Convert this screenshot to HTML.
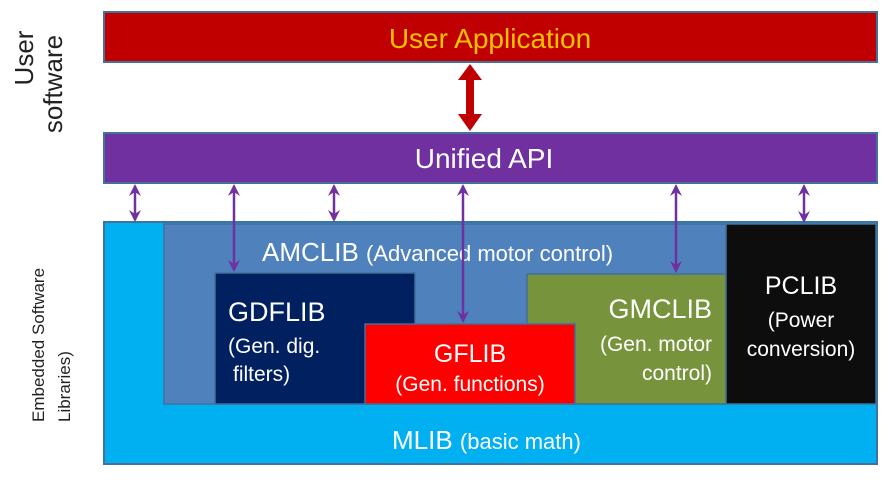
<!DOCTYPE html>
<html><head><style>body{margin:0;background:#fff}svg{display:block}text{font-family:"Liberation Sans",sans-serif}</style></head><body>
<svg width="896" height="501" viewBox="0 0 896 501" xmlns="http://www.w3.org/2000/svg">
<defs>
<marker id="a" markerWidth="14" markerHeight="14" refX="10" refY="7" orient="auto-start-reverse" markerUnits="userSpaceOnUse"><path d="M0,1 L12,7 L0,13 L4,7 Z" fill="#7030a0"/></marker>
</defs>
<text transform="translate(33,58) rotate(-90)" font-size="26" text-anchor="middle" fill="#222">User</text>
<text transform="translate(62,84) rotate(-90)" font-size="26" text-anchor="middle" fill="#222">software</text>
<text transform="translate(44,422) rotate(-90)" font-size="17" text-anchor="start" fill="#222">Embedded Software</text>
<text transform="translate(70,422) rotate(-90)" font-size="17" text-anchor="start" fill="#222">Libraries)</text>
<rect x="104" y="12" width="773" height="50" fill="#c00000" stroke="#41719c" stroke-width="2"/>
<text x="490" y="48" font-size="28" fill="#ffc000" text-anchor="middle">User Application</text>
<rect x="104" y="133" width="773" height="50" fill="#7030a0" stroke="#41719c" stroke-width="2"/>
<text x="484" y="168" font-size="28" fill="#fff" text-anchor="middle">Unified API</text>
<rect x="104" y="222" width="773" height="242" fill="#00b0f0" stroke="#41719c" stroke-width="2"/>
<rect x="164" y="224" width="562" height="180" fill="#4f81bd" stroke="#41719c" stroke-width="1.5"/>
<rect x="215" y="273" width="200" height="131" fill="#002060" stroke="#41719c" stroke-width="1.5"/>
<rect x="527" y="274" width="199" height="130" fill="#77933c" stroke="#41719c" stroke-width="1.5"/>
<rect x="365" y="324" width="210" height="80" fill="#ff0000" stroke="#41719c" stroke-width="1.5"/>
<rect x="726" y="224" width="150" height="180" fill="#0d0d0d" stroke="#41719c" stroke-width="1.5"/>
<text x="262" y="261" font-size="26" fill="#fff">AMCLIB <tspan font-size="22">(Advanced motor control)</tspan></text>
<text x="228" y="321" font-size="27" fill="#fff">GDFLIB</text>
<text x="228" y="353" font-size="21" fill="#fff">(Gen. dig.</text>
<text x="233" y="381" font-size="21" fill="#fff">filters)</text>
<text x="470" y="362" font-size="25" fill="#fff" text-anchor="middle">GFLIB</text>
<text x="470" y="391" font-size="21" fill="#fff" text-anchor="middle">(Gen. functions)</text>
<text x="712" y="318" font-size="27" fill="#fff" text-anchor="end">GMCLIB</text>
<text x="712" y="351" font-size="21" fill="#fff" text-anchor="end">(Gen. motor</text>
<text x="712" y="380" font-size="21" fill="#fff" text-anchor="end">control)</text>
<text x="801" y="294" font-size="25" fill="#fff" text-anchor="middle">PCLIB</text>
<text x="801" y="327" font-size="21" fill="#fff" text-anchor="middle">(Power</text>
<text x="801" y="356" font-size="21" fill="#fff" text-anchor="middle">conversion)</text>
<text x="392" y="449" font-size="26" fill="#fff">MLIB <tspan font-size="22">(basic math)</tspan></text>
<path d="M470,64 L482,80 L474,80 L474,114 L482,114 L470,131 L458,114 L466,114 L466,80 L458,80 Z" fill="#c00000"/>
<g stroke="#7030a0" stroke-width="2.5" fill="none" marker-start="url(#a)" marker-end="url(#a)">
<line x1="135" y1="186" x2="135" y2="220"/>
<line x1="234" y1="186" x2="234" y2="270"/>
<line x1="334" y1="186" x2="334" y2="220"/>
<line x1="463" y1="186" x2="463" y2="321"/>
<line x1="676" y1="186" x2="676" y2="271"/>
<line x1="804" y1="186" x2="804" y2="221"/>
</g>
</svg>
</body></html>
